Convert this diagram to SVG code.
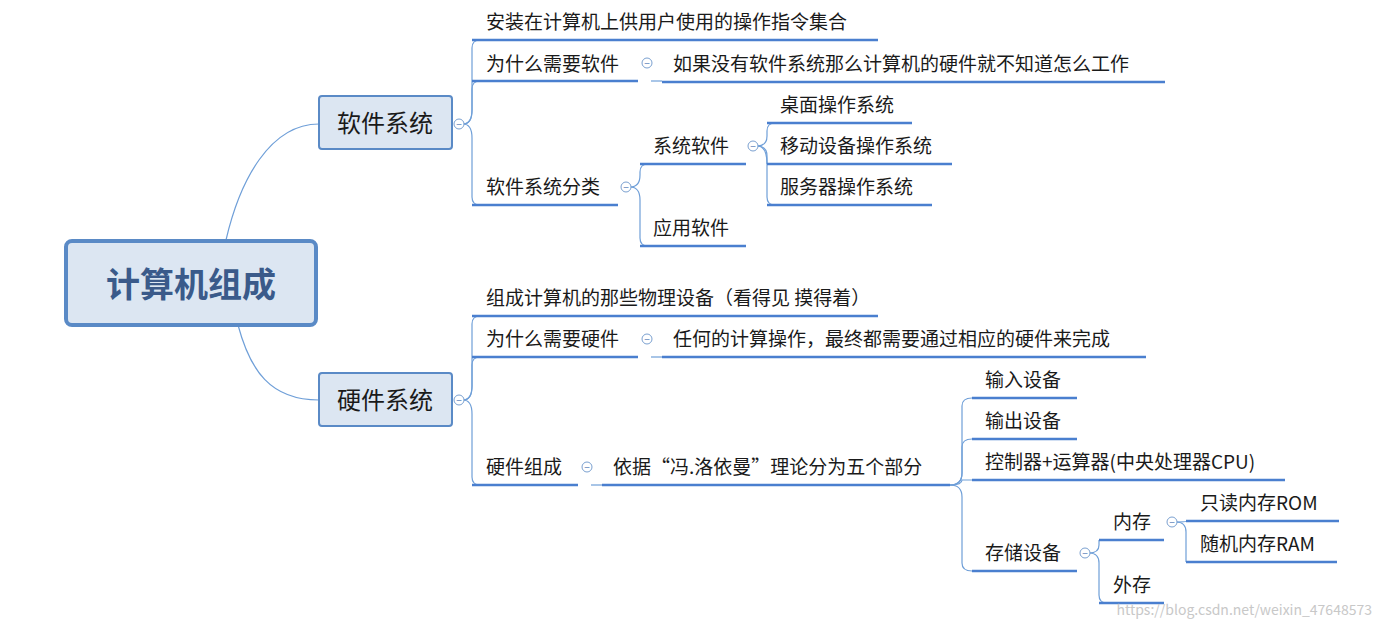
<svg xmlns="http://www.w3.org/2000/svg" width="1381" height="628" viewBox="0 0 1381 628">
<style>
text{font-family:"Noto Sans CJK SC","Microsoft YaHei",sans-serif;fill:#1a1a1a}
.t{font-size:19px}
.u{stroke:#4a7fcf;stroke-width:2.5;fill:none}
.c{stroke:#6f9fd8;stroke-width:1.2;fill:none}
.m{fill:#fff;stroke:#7aa0d0;stroke-width:1}
.mt{font-size:10px;fill:#5a80b8}
.box{fill:#dce6f2;stroke:#5a8ac6;stroke-width:2}
</style>
<rect width="1381" height="628" fill="#fff"/>
<g id="connectors">
<path class="c" d="M226 240 C240 180 270 124 319 124"/>
<path class="c" d="M238 325 C250 370 270 400 319 400"/>
<path class="c" d="M463 124 Q472 124 472 110 V48 Q472 40 480 40"/>
<path class="c" d="M463 124 Q472 124 472 110 V89 Q472 81 480 81"/>
<path class="c" d="M463 124 Q472 124 472 138 V197 Q472 205 480 205"/>
<path class="c" d="M651 81 H662"/>
<path class="c" d="M630 187 Q640 187 640 175 V172 Q640 164 648 164"/>
<path class="c" d="M630 187 Q640 187 640 200 V238 Q640 246 648 246"/>
<path class="c" d="M757 146 Q767 146 767 136 V131 Q767 123 775 123"/>
<path class="c" d="M757 146 Q767 146 767 164"/>
<path class="c" d="M757 146 Q767 146 767 156 V197 Q767 205 775 205"/>
<path class="c" d="M463 400 Q472 400 472 386 V324 Q472 316 480 316"/>
<path class="c" d="M463 400 Q472 400 472 386 V365 Q472 357 480 357"/>
<path class="c" d="M463 400 Q472 400 472 414 V477 Q472 485 480 485"/>
<path class="c" d="M651 357 H662"/>
<path class="c" d="M591 485 H602"/>
<path class="c" d="M950 485 Q962 485 962 473 V406 Q962 398 972 398"/>
<path class="c" d="M950 485 Q962 485 962 473 V447 Q962 439 972 439"/>
<path class="c" d="M950 485 Q962 485 962 480 H972"/>
<path class="c" d="M950 485 Q962 485 962 497 V563 Q962 571 972 571"/>
<path class="c" d="M1089 553 Q1099 553 1099 545 V540"/>
<path class="c" d="M1089 553 Q1099 553 1099 563 V595 Q1099 603 1107 603"/>
<path class="c" d="M1176 522 Q1186 522 1186 521"/>
<path class="c" d="M1176 522 Q1186 522 1186 532 V562"/>
</g>
<g id="root"><rect x="66" y="241" width="250" height="84" rx="6" fill="#dce6f2" stroke="#5a8ac6" stroke-width="4"/><text x="191" y="297" text-anchor="middle" font-size="34" font-weight="bold" style="fill:#3a5a8a">计算机组成</text></g>
<g id="software"><rect class="box" x="319" y="96" width="133" height="53" rx="3"/><text x="385" y="132" text-anchor="middle" font-size="24">软件系统</text><circle class="m" cx="459" cy="124" r="5"/><text class="mt" x="459" y="127.5" text-anchor="middle">−</text></g>
<g id="hardware"><rect class="box" x="319" y="373" width="133" height="53" rx="3"/><text x="385" y="409" text-anchor="middle" font-size="24">硬件系统</text><circle class="m" cx="459" cy="400" r="5"/><text class="mt" x="459" y="403.5" text-anchor="middle">−</text></g>
<g id="s1"><text class="t" x="486" y="29">安装在计算机上供用户使用的操作指令集合</text><path class="u" d="M472 40 H878"/></g>
<g id="s2"><text class="t" x="486" y="71">为什么需要软件</text><path class="u" d="M472 81 H638"/><circle class="m" cx="647" cy="63" r="5"/><text class="mt" x="647" y="66.5" text-anchor="middle">−</text></g>
<g id="s2a"><text class="t" x="673" y="71">如果没有软件系统那么计算机的硬件就不知道怎么工作</text><path class="u" d="M662 82 H1165"/></g>
<g id="s3"><text class="t" x="486" y="194">软件系统分类</text><path class="u" d="M472 205 H618"/><circle class="m" cx="626" cy="187" r="5"/><text class="mt" x="626" y="190.5" text-anchor="middle">−</text></g>
<g id="s3a"><text class="t" x="653" y="153">系统软件</text><path class="u" d="M640 164 H746"/><circle class="m" cx="753" cy="146" r="5"/><text class="mt" x="753" y="149.5" text-anchor="middle">−</text></g>
<g id="s3b"><text class="t" x="653" y="235">应用软件</text><path class="u" d="M640 246 H746"/></g>
<g id="s3a1"><text class="t" x="780" y="112">桌面操作系统</text><path class="u" d="M767 123 H912"/></g>
<g id="s3a2"><text class="t" x="780" y="153">移动设备操作系统</text><path class="u" d="M767 164 H952"/></g>
<g id="s3a3"><text class="t" x="780" y="194">服务器操作系统</text><path class="u" d="M767 205 H932"/></g>
<g id="h1"><text class="t" x="486" y="305">组成计算机的那些物理设备（看得见 摸得着）</text><path class="u" d="M472 316 H878"/></g>
<g id="h2"><text class="t" x="486" y="346">为什么需要硬件</text><path class="u" d="M472 357 H638"/><circle class="m" cx="647" cy="339" r="5"/><text class="mt" x="647" y="342.5" text-anchor="middle">−</text></g>
<g id="h2a"><text class="t" x="673" y="346">任何的计算操作，最终都需要通过相应的硬件来完成</text><path class="u" d="M662 357 H1146"/></g>
<g id="h3"><text class="t" x="486" y="474">硬件组成</text><path class="u" d="M472 485 H578"/><circle class="m" cx="587" cy="467" r="5"/><text class="mt" x="587" y="470.5" text-anchor="middle">−</text></g>
<g id="h3a"><text class="t" x="613" y="474">依据“冯.洛依曼”理论分为五个部分</text><path class="u" d="M602 485 H950"/></g>
<g id="h3a1"><text class="t" x="985" y="387">输入设备</text><path class="u" d="M972 398 H1077"/></g>
<g id="h3a2"><text class="t" x="985" y="428">输出设备</text><path class="u" d="M972 439 H1077"/></g>
<g id="h3a3"><text class="t" x="985" y="469">控制器+运算器(中央处理器CPU)</text><path class="u" d="M972 480 H1285"/></g>
<g id="h3a4"><text class="t" x="985" y="560">存储设备</text><path class="u" d="M972 571 H1077"/><circle class="m" cx="1085" cy="553" r="5"/><text class="mt" x="1085" y="556.5" text-anchor="middle">−</text></g>
<g id="mem"><text class="t" x="1113" y="529">内存</text><path class="u" d="M1099 540 H1164"/><circle class="m" cx="1172" cy="522" r="5"/><text class="mt" x="1172" y="525.5" text-anchor="middle">−</text></g>
<g id="ext"><text class="t" x="1113" y="592">外存</text><path class="u" d="M1099 603 H1164"/></g>
<g id="rom"><text class="t" x="1200" y="510">只读内存ROM</text><path class="u" d="M1186 521 H1339"/></g>
<g id="ram"><text class="t" x="1200" y="551">随机内存RAM</text><path class="u" d="M1186 562 H1337"/></g>
<text x="1372" y="615" text-anchor="end" font-size="14" style="fill:#c8c8c8">https://blog.csdn.net/weixin_47648573</text>
</svg>
